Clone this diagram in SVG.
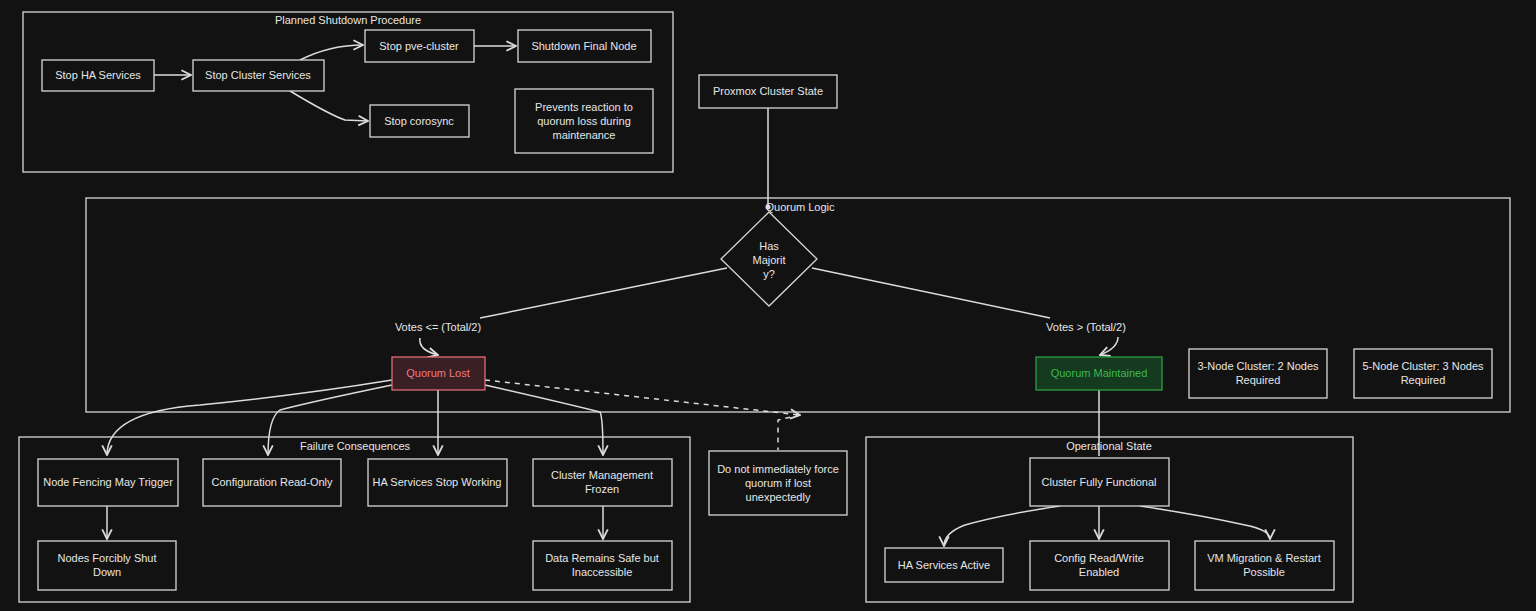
<svg xmlns="http://www.w3.org/2000/svg" width="1536" height="611" viewBox="0 0 1536 611">
<defs>
<style>
text{font-family:"Liberation Sans",Arial,sans-serif;font-size:11px;fill:#e6e6e6;text-anchor:middle}
.n{fill:#121212;stroke:#d8d8d8;stroke-width:1.3}
.g{fill:none;stroke:#d8d8d8;stroke-width:1.3}
.c{fill:none;stroke:#dcdcdc;stroke-width:1.5}
</style>
<marker id="a" viewBox="0 0 10 10" refX="9" refY="5" markerWidth="8" markerHeight="8" orient="auto-start-reverse"><path d="M1,1 L9,5 L1,9" fill="none" stroke="#dcdcdc" stroke-width="1.5"/></marker>
</defs>
<rect width="1536" height="611" fill="#121212"/>
<g id="groups">
<rect class="g" x="23" y="12" width="650" height="160"/><text x="348" y="24">Planned Shutdown Procedure</text>
<rect class="g" x="86" y="198" width="1424" height="214"/><text x="800" y="211">Quorum Logic</text>
<rect class="g" x="19" y="437" width="671" height="165"/><text x="355" y="450">Failure Consequences</text>
<rect class="g" x="866" y="437" width="487" height="165"/><text x="1109" y="450">Operational State</text>
</g>
<g id="connectors">
<path class="c" d="M154,75 L191,75" marker-end="url(#a)"/>
<path class="c" d="M300,60 Q330,45 363,45" marker-end="url(#a)"/>
<path class="c" d="M474,46 L516,46" marker-end="url(#a)"/>
<path class="c" d="M290,91 Q330,115 345,120 L368,121" marker-end="url(#a)"/>
<path class="c" d="M768,108 L768,207"/>
<circle cx="768" cy="207" r="2.5" fill="#dcdcdc"/>
<path class="c" d="M727,268 L480,318"/>
<path class="c" d="M812,268 L1050,318"/>
<path class="c" d="M420,338 Q418,350 438,355" marker-end="url(#a)"/>
<path class="c" d="M1118,337 Q1118,348 1100,355" marker-end="url(#a)"/>
<path class="c" d="M392,380 Q300,395 200,405 Q107,412 107,455" marker-end="url(#a)"/>
<path class="c" d="M392,385 Q310,402 280,410 Q268,418 268,455" marker-end="url(#a)"/>
<path class="c" d="M438,390 L438,455" marker-end="url(#a)"/>
<path class="c" d="M485,385 Q560,402 600,412 Q603,418 603,455" marker-end="url(#a)"/>
<path class="c" d="M485,380 L800,415" stroke-dasharray="5,5" marker-end="url(#a)"/>
<path class="c" d="M800,415 L778,420 L778,450" stroke-dasharray="5,5"/>
<path class="c" d="M107,506 L107,539" marker-end="url(#a)"/>
<path class="c" d="M603,506 L603,539" marker-end="url(#a)"/>
<path class="c" d="M1099,390 L1099,456"/>
<path class="c" d="M1060,506 Q1000,515 965,525 Q944,533 944,546" marker-end="url(#a)"/>
<path class="c" d="M1099,506 L1099,539" marker-end="url(#a)"/>
<path class="c" d="M1140,506 Q1200,515 1245,525 Q1270,530 1270,539" marker-end="url(#a)"/>
</g>
<g id="n-stopha"><rect class="n" x="42" y="60" width="112" height="31"/><text x="98" y="79">Stop HA Services</text></g>
<g id="n-stopcs"><rect class="n" x="193" y="60" width="131" height="31"/><text x="258" y="79">Stop Cluster Services</text></g>
<g id="n-pve"><rect class="n" x="365" y="30" width="109" height="32"/><text x="419" y="50">Stop pve-cluster</text></g>
<g id="n-final"><rect class="n" x="518" y="30" width="133" height="32"/><text x="584" y="50">Shutdown Final Node</text></g>
<g id="n-coro"><rect class="n" x="370" y="105" width="99" height="32"/><text x="419" y="125">Stop corosync</text></g>
<g id="n-prevent"><rect class="n" x="515" y="89" width="138" height="64"/><text x="584" y="111">Prevents reaction to</text><text x="584" y="125">quorum loss during</text><text x="584" y="139">maintenance</text></g>
<g id="n-state"><rect class="n" x="699" y="75" width="138" height="33"/><text x="768" y="95">Proxmox Cluster State</text></g>
<g id="n-major"><path class="n" d="M769,212 L817,259 L769,306 L721,259 Z"/><text x="769" y="250">Has</text><text x="769" y="264">Majorit</text><text x="769" y="278">y?</text></g>
<text x="438" y="331">Votes &lt;= (Total/2)</text>
<text x="1086" y="331">Votes &gt; (Total/2)</text>
<g id="n-lost"><rect x="392" y="357" width="93" height="33" fill="#3a1f24" stroke="#e06c75" stroke-width="1.3"/><text x="438" y="377" style="fill:#ef7b86">Quorum Lost</text></g>
<g id="n-maint"><rect x="1036" y="357" width="126" height="33" fill="#143a1f" stroke="#2f9e44" stroke-width="1.3"/><text x="1099" y="377" style="fill:#3fb950">Quorum Maintained</text></g>
<g id="n-3node"><rect class="n" x="1189" y="349" width="138" height="49"/><text x="1258" y="370">3-Node Cluster: 2 Nodes</text><text x="1258" y="384">Required</text></g>
<g id="n-5node"><rect class="n" x="1354" y="349" width="138" height="49"/><text x="1423" y="370">5-Node Cluster: 3 Nodes</text><text x="1423" y="384">Required</text></g>
<g id="n-fence"><rect class="n" x="38" y="459" width="140" height="47"/><text x="108" y="486">Node Fencing May Trigger</text></g>
<g id="n-ro"><rect class="n" x="203" y="459" width="138" height="47"/><text x="272" y="486">Configuration Read-Only</text></g>
<g id="n-hastop"><rect class="n" x="368" y="459" width="139" height="47"/><text x="437" y="486">HA Services Stop Working</text></g>
<g id="n-frozen"><rect class="n" x="533" y="459" width="139" height="47"/><text x="602" y="479">Cluster Management</text><text x="602" y="493">Frozen</text></g>
<g id="n-shut"><rect class="n" x="38" y="541" width="138" height="49"/><text x="107" y="562">Nodes Forcibly Shut</text><text x="107" y="576">Down</text></g>
<g id="n-data"><rect class="n" x="533" y="541" width="139" height="49"/><text x="602" y="562">Data Remains Safe but</text><text x="602" y="576">Inaccessible</text></g>
<g id="n-force"><rect class="n" x="709" y="451" width="138" height="64"/><text x="778" y="473">Do not immediately force</text><text x="778" y="487">quorum if lost</text><text x="778" y="501">unexpectedly</text></g>
<g id="n-full"><rect class="n" x="1030" y="458" width="139" height="48"/><text x="1099" y="486">Cluster Fully Functional</text></g>
<g id="n-haact"><rect class="n" x="885" y="548" width="118" height="34"/><text x="944" y="569">HA Services Active</text></g>
<g id="n-rw"><rect class="n" x="1030" y="541" width="139" height="49"/><text x="1099" y="562">Config Read/Write</text><text x="1099" y="576">Enabled</text></g>
<g id="n-vm"><rect class="n" x="1195" y="541" width="139" height="49"/><text x="1264" y="562">VM Migration &amp; Restart</text><text x="1264" y="576">Possible</text></g>
</svg>
